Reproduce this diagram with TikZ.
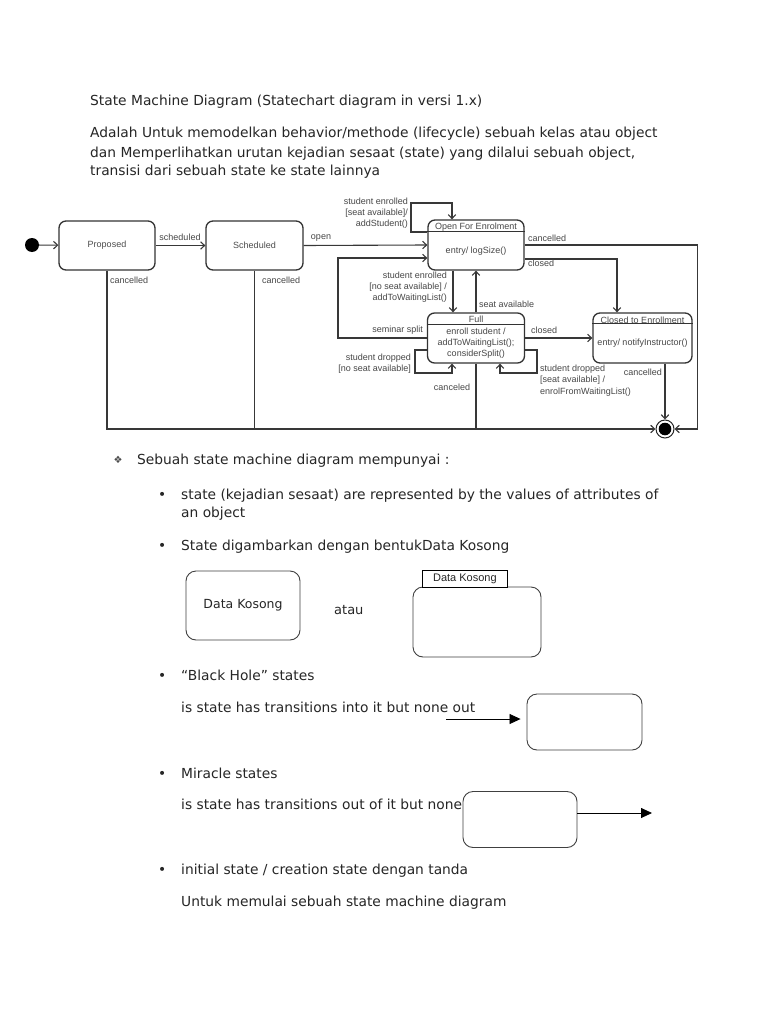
\documentclass[tikz,border=0pt]{standalone}
\usepackage{fontspec}
\setmainfont{DejaVu Sans}
\newfontfamily\diafont{Liberation Sans}
\usetikzlibrary{arrows.meta,calc}
\begin{document}
\begin{tikzpicture}[x=1pt,y=-1pt,
  txt/.style={anchor=base west, inner sep=0pt, font=\fontsize{13.8}{16}\selectfont, text=black!85},
  st/.style={draw=black!80, line width=1.3pt, rounded corners=7pt, fill=white, inner sep=0pt,
    font=\diafont\fontsize{9}{11.3}\selectfont, text=black!70},
  lab/.style={font=\diafont\fontsize{9}{11.3}\selectfont, text=black!72, inner sep=0pt},
  arr/.style={draw=black!78, line width=1.1pt, -{Straight Barb[length=4pt,width=7.5pt]}},
  ln/.style={draw=black!78, line width=1.1pt},
  pstate/.style={draw=black!75, line width=0.9pt, rounded corners=10pt, inner sep=0pt},
  blk/.style={draw=black, line width=0.8pt, -{Triangle[length=11pt,width=10pt]}},
]
\path[use as bounding box, fill=white] (0,0) rectangle (768,1024);

% ---- header text ----
\node[txt] (t1) at (90,105.7) {State Machine Diagram (Statechart diagram in versi 1.x)};
\node[txt] (t2) at (90,137.7) {Adalah Untuk memodelkan behavior/methode (lifecycle) sebuah kelas atau object};
\node[txt] (t3) at (90,157.7) {dan Memperlihatkan urutan kejadian sesaat (state) yang dilalui sebuah object,};
\node[txt] (t4) at (90,176) {transisi dari sebuah state ke state lainnya};

% ---- state machine ----
\node[circle, fill=black, minimum size=14pt, inner sep=0pt] (init) at (32,245) {};
\node[st, minimum width=96pt, minimum height=49pt] (prop) at (107,245.5) {Proposed};
\node[st, minimum width=97pt, minimum height=49pt] (sched) at (254.5,245.5) {Scheduled};
\node[st, minimum width=96pt, minimum height=50pt] (open) at (476,245) {};
\node[st, minimum width=97pt, minimum height=50pt] (full) at (476,338) {};
\node[st, minimum width=99pt, minimum height=50pt] (closed) at (642.5,338) {};
\node[circle, draw=black!85, line width=1pt, minimum size=18pt, inner sep=0pt, fill=white] (fin) at (665,429) {};
\fill[black] (fin.center) circle (6.3pt);

% compartments
\draw[line width=1pt, black!80] (open.west |- 0,232) -- (open.east |- 0,232);
\draw[line width=1pt, black!80] (full.west |- 0,324) -- (full.east |- 0,324);
\draw[line width=1pt, black!80] (closed.west |- 0,323) -- (closed.east |- 0,323);
\node[lab] (openh) at (476,227) {Open For Enrolment};
\node[lab] (openb) at (476,251) {entry/ logSize()};
\node[lab] (fullh) at (476,319) {Full};
\node[lab, align=center] (fullb) at (476,343.3) {enroll student /\\addToWaitingList();\\considerSplit()};
\node[lab] (closedh) at (642.5,320) {Closed to Enrollment};
\node[lab] (closedb) at (642.5,343) {entry/ notifyInstructor()};

% transitions
\draw[arr] (init) -- (prop);
\draw[arr] (prop) -- (sched);
\node[lab] (lsch) at (180,237.5) {scheduled};
\draw[arr] (sched.east) -- (open.west);
\node[lab] (lopen) at (321,238) {open};
\draw[arr] (open.west |- 0,232) -| (411,203) -| (open.north -| 452,0);
\node[lab, align=right, anchor=east] (lse) at (408,213) {student enrolled\\{}[seat available]/\\addStudent()};
\draw[arr] (open.east) -- ++(173,0) |- (fin.east);
\node[lab, anchor=west] (lc1) at (528,238) {cancelled};
\draw[arr] (open.east |- 0,259) -| (closed.north -| 617,0);
\node[lab, anchor=west] (lcl1) at (528,263) {closed};
\draw[arr] (open.south -| 453,0) -- (full.north -| 453,0);
\node[lab, align=right, anchor=east] (lnse) at (447,287.3) {student enrolled\\{}[no seat available] /\\addToWaitingList()};
\draw[arr] (full.north) -- (open.south);
\node[lab, anchor=west] (lsa) at (479,304.5) {seat available};
\draw[arr] (full.west) -- (338,338) |- (open.west |- 0,258);
\node[lab, anchor=east] (lss) at (423,330) {seminar split};
\draw[arr] (full.east) -- (closed.west);
\node[lab, anchor=west] (lcl2) at (531,330) {closed};
\draw[arr] (full.west |- 0,350) -| (415,373) -| (full.south -| 452,0);
\node[lab, align=right, anchor=east] (lsd1) at (411,363.5) {student dropped\\{}[no seat available]};
\draw[arr] (full.east |- 0,350) -| (537,373) -| (full.south -| 500,0);
\node[lab, align=left, anchor=west] (lsd2) at (540,380.5) {student dropped\\{}[seat available] /\\enrolFromWaitingList()};
\draw[arr] (closed.south -| fin.north) -- (fin.north);
\node[lab, anchor=east] (lc2) at (662,372) {cancelled};
\draw[arr] (prop.south) -- (prop.south |- fin.west) -- (fin.west);
\node[lab, anchor=west] (lc3) at (110,280) {cancelled};
\draw[ln] (sched.south) -- (sched.south |- fin.west);
\node[lab, anchor=west] (lc4) at (262,280) {cancelled};
\draw[ln] (full.south) -- (full.south |- fin.west);
\node[lab] (lc5) at (452,387) {canceled};

% ---- lower text ----
\node[inner sep=0pt, font=\fontsize{10}{12}\selectfont, text=black!70] (b0) at (118,460) {❖};
\node[txt] (t5) at (137,464) {Sebuah state machine diagram mempunyai :};
\node[txt] (b1) at (158,499.3) {•};
\node[txt] (t6) at (181,499.3) {state (kejadian sesaat) are represented by the values of attributes of};
\node[txt] (t7) at (181,517.3) {an object};
\node[txt] (b2) at (158,550.7) {•};
\node[txt] (t8) at (181,550.7) {State digambarkan dengan bentukData Kosong};

\node[pstate, minimum width=114pt, minimum height=69pt, font=\fontsize{12.5}{14}\selectfont, text=black!85] (dk1) at (243,605.5) {Data Kosong};
\node[txt, font=\fontsize{13}{15}\selectfont] (atau) at (334,614) {atau};
\node[pstate, minimum width=128pt, minimum height=70pt] (dk2) at (477,622) {};
\node[draw=black, line width=0.8pt, fill=white, minimum width=85pt, minimum height=17pt, inner sep=0pt,
  font=\diafont\fontsize{11}{12}\selectfont, text=black!85, anchor=north west] (tab) at (422,570) {Data Kosong};

\node[txt] (b3) at (158,680.7) {•};
\node[txt] (t9) at (181,680.7) {“Black Hole” states};
\node[txt] (t10) at (181,712.7) {is state has transitions into it but none out};
\node[pstate, minimum width=115pt, minimum height=56pt] (bh) at (584.5,722) {};
\coordinate (bhin) at (446,719);
\draw[blk, shorten >=6pt] (bhin) -- (bh.west |- bhin);

\node[txt] (b4) at (158,778.3) {•};
\node[txt] (t11) at (181,778.3) {Miracle states};
\node[txt] (t12) at (181,809.3) {is state has transitions out of it but none};
\node[pstate, minimum width=114pt, minimum height=56pt] (mir) at (520,819.5) {};
\coordinate (mirout) at (652,813);
\draw[blk] (mir.east |- mirout) -- (mirout);

\node[txt] (b5) at (158,874.3) {•};
\node[txt] (t13) at (181,874.3) {initial state / creation state dengan tanda};
\node[txt] (t14) at (181,906) {Untuk memulai sebuah state machine diagram};
\end{tikzpicture}
\end{document}
